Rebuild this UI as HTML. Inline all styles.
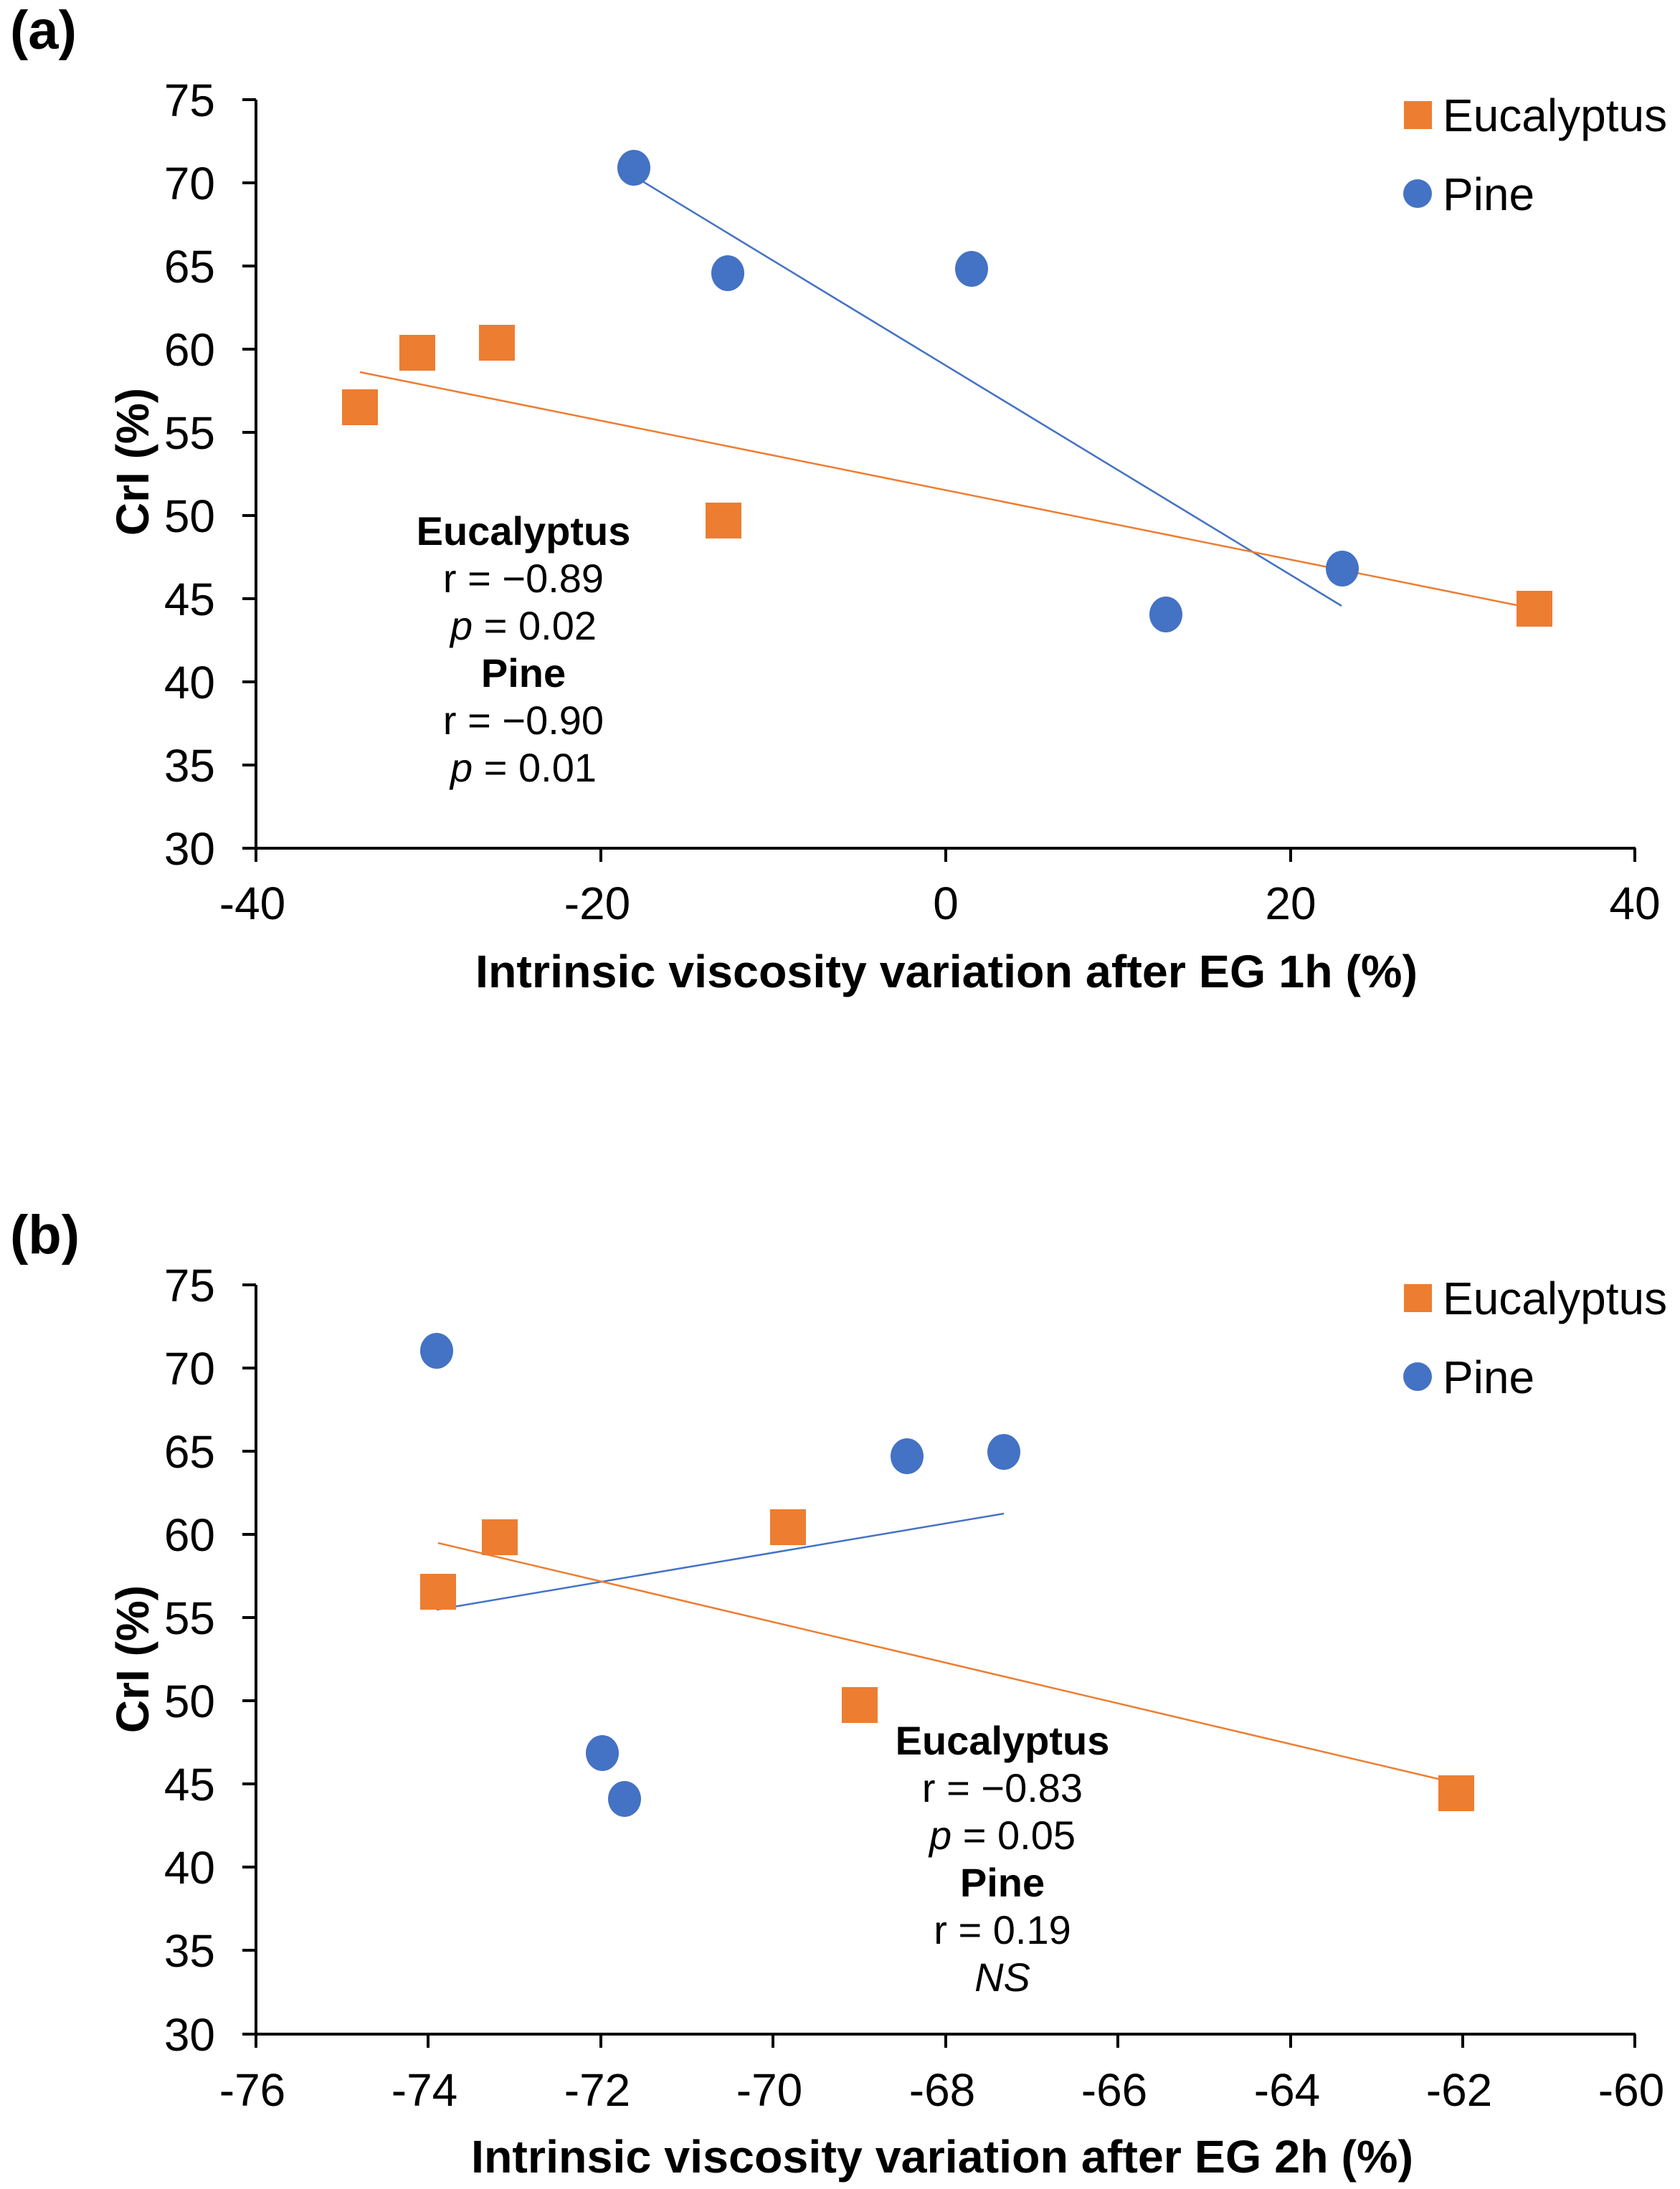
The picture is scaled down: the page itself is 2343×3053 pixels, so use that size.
<!DOCTYPE html>
<html><head><meta charset="utf-8"><style>html,body{margin:0;padding:0;background:#fff}svg{display:block}</style></head>
<body>
<svg width="2343" height="3053" viewBox="0 0 2343 3053" xmlns="http://www.w3.org/2000/svg" font-family="Liberation Sans, Arial, sans-serif">
<rect width="2343" height="3053" fill="#fff"/>
<!-- Panel a -->
<text x="14" y="68" font-size="76" font-weight="bold">(a)</text>
<g stroke="#000" stroke-width="4" fill="none">
<path d="M357,139 V1183 H2281"/>
<path d="M338,139H357M338,255H357M338,371H357M338,487H357M338,603H357M338,719H357M338,835H357M338,951H357M338,1067H357M338,1183H357"/>
<path d="M357,1183V1202M838,1183V1202M1319,1183V1202M1800,1183V1202M2280,1183V1202"/>
</g>
<g font-size="64" text-anchor="end">
<text x="300" y="162">75</text><text x="300" y="278">70</text><text x="300" y="394">65</text><text x="300" y="510">60</text><text x="300" y="626">55</text><text x="300" y="742">50</text><text x="300" y="858">45</text><text x="300" y="974">40</text><text x="300" y="1090">35</text><text x="300" y="1206">30</text>
</g>
<g font-size="64" text-anchor="middle">
<text x="352" y="1282">-40</text><text x="833" y="1282">-20</text><text x="1319" y="1282">0</text><text x="1800" y="1282">20</text><text x="2280" y="1282">40</text>
</g>
<text x="1320" y="1377" font-size="64" font-weight="bold" text-anchor="middle" textLength="1314" lengthAdjust="spacingAndGlyphs">Intrinsic viscosity variation after EG 1h (%)</text>
<text transform="translate(207,644) rotate(-90)" font-size="64" font-weight="bold" text-anchor="middle">CrI (%)</text>
<line x1="888" y1="248" x2="1871" y2="845" stroke="#4472C4" stroke-width="2.5"/>
<line x1="502" y1="519" x2="2140" y2="849" stroke="#ED7D31" stroke-width="2.5"/>
<g fill="#ED7D31">
<rect x="477" y="543" width="50" height="50"/><rect x="557" y="467" width="50" height="50"/><rect x="668" y="453" width="50" height="50"/><rect x="984" y="701" width="50" height="50"/><rect x="2115" y="824" width="50" height="50"/>
</g>
<g fill="#4472C4">
<ellipse cx="884" cy="234" rx="23" ry="25"/><ellipse cx="1015" cy="381" rx="23" ry="25"/><ellipse cx="1355" cy="375" rx="23" ry="25"/><ellipse cx="1626" cy="857" rx="23" ry="25"/><ellipse cx="1872" cy="793" rx="23" ry="25"/>
</g>
<rect x="1958" y="141" width="39" height="39" fill="#ED7D31"/>
<text x="2012" y="183" font-size="64">Eucalyptus</text>
<circle cx="1977" cy="270" r="20" fill="#4472C4"/>
<text x="2012" y="293" font-size="64">Pine</text>
<g font-size="56" text-anchor="middle">
<text x="730" y="760" font-weight="bold">Eucalyptus</text>
<text x="730" y="826">r = −0.89</text>
<text x="730" y="892"><tspan font-style="italic">p</tspan> = 0.02</text>
<text x="730" y="958" font-weight="bold">Pine</text>
<text x="730" y="1024">r = −0.90</text>
<text x="730" y="1090"><tspan font-style="italic">p</tspan> = 0.01</text>
</g>
<!-- Panel b -->
<text x="14" y="1748" font-size="76" font-weight="bold">(b)</text>
<g stroke="#000" stroke-width="4" fill="none">
<path d="M357,1792 V2837 H2281"/>
<path d="M338,1792H357M338,1908H357M338,2024H357M338,2140H357M338,2256H357M338,2372H357M338,2488H357M338,2604H357M338,2720H357M338,2837H357"/>
<path d="M357,2837V2856M597,2837V2856M838,2837V2856M1078,2837V2856M1319,2837V2856M1559,2837V2856M1800,2837V2856M2040,2837V2856M2280,2837V2856"/>
</g>
<g font-size="64" text-anchor="end">
<text x="300" y="1815">75</text><text x="300" y="1931">70</text><text x="300" y="2047">65</text><text x="300" y="2163">60</text><text x="300" y="2279">55</text><text x="300" y="2395">50</text><text x="300" y="2511">45</text><text x="300" y="2627">40</text><text x="300" y="2743">35</text><text x="300" y="2860">30</text>
</g>
<g font-size="64" text-anchor="middle">
<text x="352" y="2937">-76</text><text x="592" y="2937">-74</text><text x="833" y="2937">-72</text><text x="1073" y="2937">-70</text><text x="1314" y="2937">-68</text><text x="1554" y="2937">-66</text><text x="1795" y="2937">-64</text><text x="2035" y="2937">-62</text><text x="2275" y="2937">-60</text>
</g>
<text x="1314" y="3030" font-size="64" font-weight="bold" text-anchor="middle" textLength="1314" lengthAdjust="spacingAndGlyphs">Intrinsic viscosity variation after EG 2h (%)</text>
<text transform="translate(207,2314) rotate(-90)" font-size="64" font-weight="bold" text-anchor="middle">CrI (%)</text>
<line x1="609" y1="2245" x2="1400" y2="2111" stroke="#4472C4" stroke-width="2.5"/>
<line x1="611" y1="2152" x2="2031" y2="2487" stroke="#ED7D31" stroke-width="2.5"/>
<g fill="#ED7D31">
<rect x="586" y="2195" width="50" height="50"/><rect x="672" y="2119" width="50" height="50"/><rect x="1074" y="2105" width="50" height="50"/><rect x="1174" y="2353" width="50" height="50"/><rect x="2006" y="2476" width="50" height="50"/>
</g>
<g fill="#4472C4">
<ellipse cx="609" cy="1884" rx="23" ry="25"/><ellipse cx="840" cy="2445" rx="23" ry="25"/><ellipse cx="871" cy="2509" rx="23" ry="25"/><ellipse cx="1265" cy="2031" rx="23" ry="25"/><ellipse cx="1400" cy="2025" rx="23" ry="25"/>
</g>
<rect x="1958" y="1791" width="39" height="39" fill="#ED7D31"/>
<text x="2012" y="1833" font-size="64">Eucalyptus</text>
<circle cx="1977" cy="1920" r="20" fill="#4472C4"/>
<text x="2012" y="1943" font-size="64">Pine</text>
<g font-size="56" text-anchor="middle">
<text x="1398" y="2447" font-weight="bold">Eucalyptus</text>
<text x="1398" y="2513">r = −0.83</text>
<text x="1398" y="2579"><tspan font-style="italic">p</tspan> = 0.05</text>
<text x="1398" y="2645" font-weight="bold">Pine</text>
<text x="1398" y="2711">r = 0.19</text>
<text x="1398" y="2777" font-style="italic">NS</text>
</g>
</svg>
</body></html>
